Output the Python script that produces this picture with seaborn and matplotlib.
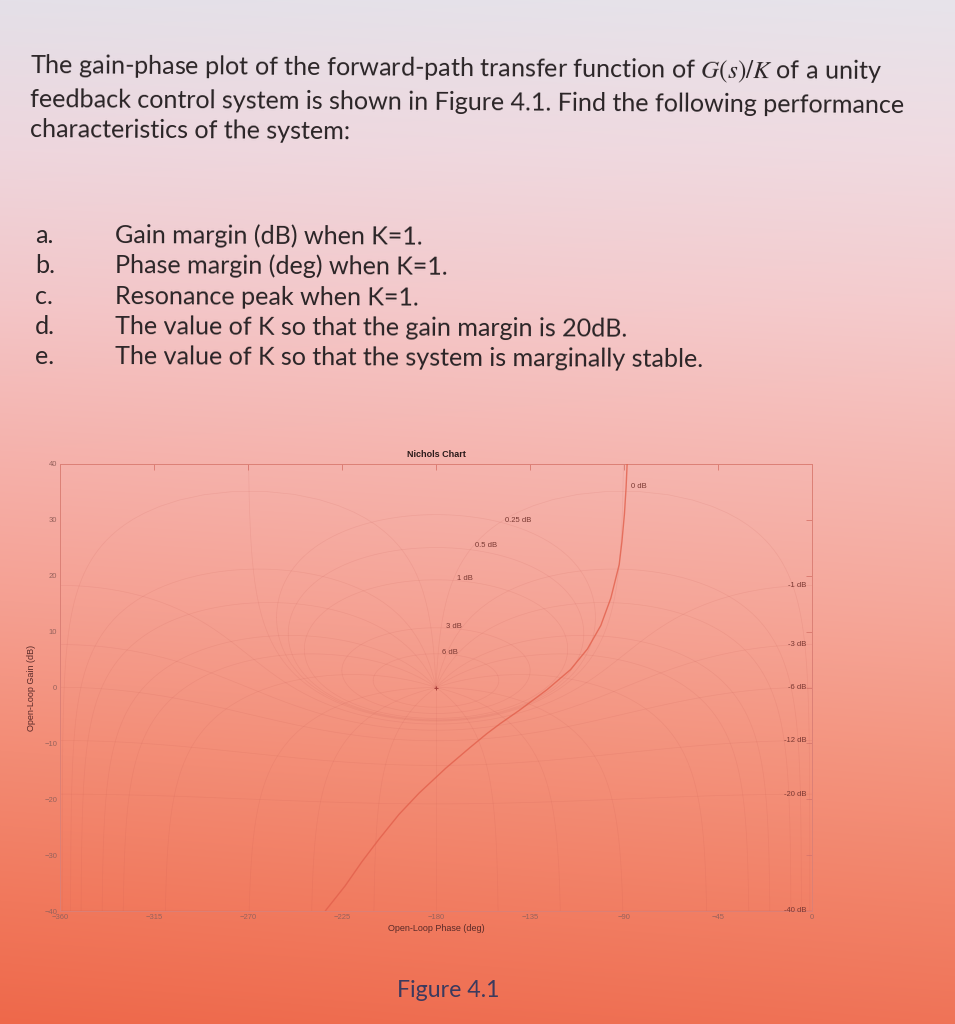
import numpy as np
import pandas as pd
import seaborn as sns
import matplotlib.pyplot as plt

W, H = 955, 1024

# open-loop curve of G(s)/K
phase_deg = [-88.5, -89.0, -89.8, -91.0, -92.3, -96.3, -101.1, -107.5, -115.6, -126.9,
             -139.8, -149.4, -155.8, -163.9, -175.2, -188.1, -197.7, -207.4, -215.5,
             -223.5, -232.4, -233.0]
gain_db = [40.0, 35.8, 31.0, 26.1, 22.0, 16.0, 11.1, 6.9, 3.2, -0.4,
           -4.0, -6.5, -8.3, -10.8, -14.4, -18.9, -22.7, -27.2, -31.2,
           -35.5, -39.7, -40.0]

x_ticks = [-360, -315, -270, -225, -180, -135, -90, -45, 0]
y_ticks = [-40, -30, -20, -10, 0, 10, 20, 30, 40]

# closed-loop magnitude (dB) and phase (deg) levels of the Nichols grid
m_levels = [6, 3, 1, 0.5, 0.25, 0, -1, -3, -6, -12, -20, -40]
n_levels = [-1, -5, -10, -20, -30, -50, -90, -120, -150]

pos_labels = ["6 dB", "3 dB", "1 dB", "0.5 dB", "0.25 dB", "0 dB"]
pos_label_at = [(-177, 6.2), (-175, 11.0), (-170, 19.5), (-161.5, 25.4), (-147, 29.8), (-86.5, 36.0)]
neg_levels = [-1, -3, -6, -12, -20, -40]

intro = ["The gain-phase plot of the forward-path transfer function of $G(s)/K$ of a unity",
         "feedback control system is shown in Figure 4.1. Find the following performance",
         "characteristics of the system:"]
item_keys = ["a.", "b.", "c.", "d.", "e."]
items = ["Gain margin (dB) when K=1.",
         "Phase margin (deg) when K=1.",
         "Resonance peak when K=1.",
         "The value of K so that the gain margin is 20dB.",
         "The value of K so that the system is marginally stable."]


def m_contour(mdb):
    M = 10 ** (mdb / 20)
    if mdb == 0:
        ph = np.linspace(-269.9, -90.1, 800)
        r = -1 / (2 * np.cos(np.radians(ph)))
        return ph, 20 * np.log10(r)
    if M < 1:
        ph = np.linspace(-360, 0, 721)
        c = np.cos(np.radians(ph))
        r = (M**2 * c + np.sqrt(M**4 * c**2 + M**2 * (1 - M**2))) / (1 - M**2)
        return ph, 20 * np.log10(r)
    d = np.degrees(np.arccos(np.sqrt(M**2 - 1) / M))
    ph = -180 - d * np.cos(np.linspace(0, np.pi, 400))
    c = np.cos(np.radians(ph))
    disc = np.clip(M**4 * c**2 - M**2 * (M**2 - 1), 0, None)
    up = (-M**2 * c + np.sqrt(disc)) / (M**2 - 1)
    lo = (-M**2 * c - np.sqrt(disc)) / (M**2 - 1)
    return np.concatenate([ph, ph[::-1]]), 20 * np.log10(np.concatenate([up, lo[::-1]]))


def n_contour(psi):
    m = np.logspace(-3, 3, 3000)
    T = m * np.exp(1j * np.radians(psi))
    G = T / (1 - T)
    return np.degrees(np.angle(G)), 20 * np.log10(np.abs(G))


sns.set_theme(style="white")
plt.rcParams["font.family"] = ["Liberation Sans", "DejaVu Sans"]
plt.rcParams["mathtext.fontset"] = "stix"

fig = plt.figure(figsize=(W / 100, H / 100), dpi=100)

# photographed page: lavender-grey top fading to orange at the bottom
stops_y = [0, 150, 300, 450, 600, 750, 900, 1024]
stops_rgb = [(228, 224, 232), (238, 214, 221), (243, 198, 200), (245, 178, 172),
             (245, 160, 146), (243, 140, 117), (241, 120, 92), (238, 104, 74)]
yy = np.arange(H)
col = np.stack([np.interp(yy, stops_y, [c[i] for c in stops_rgb]) for i in range(3)], axis=1) / 255
img = np.repeat(col[:, None, :], W, axis=1)
xx = np.linspace(0, 1, W)
lift = 0.12 * xx[None, :, None] * (1 - 0.4 * yy[:, None, None] / H)
img = img + (1 - img) * lift
bg = fig.add_axes([0, 0, 1, 1], zorder=-5)
bg.imshow(img, aspect="auto")
bg.axis("off")

# problem text
txt_font = ["Lato", "DejaVu Sans"]
txt_color = "#2a2426"
renderer = fig.canvas.get_renderer()
probe = fig.text(0, 0, intro[1], fontsize=18, family=txt_font)
fs = 18 * 873 / probe.get_window_extent(renderer).width
probe.remove()

for s, (x, y) in zip(intro, [(30, 73), (30, 107), (30, 137)]):
    fig.text(x / W, 1 - y / H, s, fontsize=fs, family=txt_font, color=txt_color,
             va="baseline", rotation=-0.4, rotation_mode="anchor")
for i, (k, s) in enumerate(zip(item_keys, items)):
    y = 243 + 30.3 * i
    fig.text(35 / W, 1 - y / H, k, fontsize=fs, family=txt_font, color=txt_color,
             va="baseline", rotation=-0.3, rotation_mode="anchor")
    fig.text(115 / W, 1 - y / H, s, fontsize=fs, family=txt_font, color=txt_color,
             va="baseline", rotation=-0.3, rotation_mode="anchor")

fig.text(397 / W, 1 - 997 / H, "Figure 4.1", fontsize=fs * 0.92, family=txt_font,
         color="#3b3a5e", va="baseline")

# Nichols chart
ax = fig.add_axes([60 / W, 1 - 911 / H, 752 / W, 447 / H])
ax.set_facecolor("none")
grid_kw = dict(color="#c0504a", lw=0.5, alpha=0.13, zorder=1)
for mdb in m_levels:
    ph, g = m_contour(mdb)
    ax.plot(ph, g, **grid_kw)
for psi in n_levels:
    ph, g = n_contour(psi)
    ax.plot(ph, g, **grid_kw)
    ax.plot(-360 - ph, g, **grid_kw)
ax.plot([-180, -180], [-60, 0], **grid_kw)

curve = pd.DataFrame({"phase": phase_deg, "gain": gain_db})
sns.lineplot(data=curve, x="phase", y="gain", sort=False, color="#e2604c",
             lw=1.0, alpha=0.8, ax=ax, zorder=3)
ax.plot([-180], [0], marker="+", ms=3.5, mew=0.7, color="#a8403a", zorder=4)

lab_kw = dict(fontsize=5.5, color="#7a3832", zorder=5)
for s, (p, g) in zip(pos_labels, pos_label_at):
    ax.text(p, g, s, ha="left", va="center", **lab_kw)
for mdb in neg_levels:
    M = 10 ** (mdb / 20)
    ax.text(-2.5, 20 * np.log10(M / (1 - M)), f"{mdb} dB", ha="right", va="center", **lab_kw)

ax.set_xlim(-360, 0)
ax.set_ylim(-40, 40)
ax.set_xticks(x_ticks)
ax.set_yticks(y_ticks)
ax.tick_params(direction="in", length=4, width=0.6, color="#d8766c", top=True, right=True,
               labelsize=5.5, labelcolor="#96625c", pad=2)
for sp in ax.spines.values():
    sp.set_color("#dc8076")
    sp.set_linewidth(0.7)
ax.set_xlabel("Open-Loop Phase (deg)", fontsize=6.5, color="#5a2a28", labelpad=2)
ax.set_ylabel("Open-Loop Gain (dB)", fontsize=6.5, color="#5a2a28", labelpad=6)
ax.set_title("Nichols Chart", fontsize=6.5, fontweight="bold", color="#2a1a1a", pad=5)

fig.savefig("out.png", dpi=100)
